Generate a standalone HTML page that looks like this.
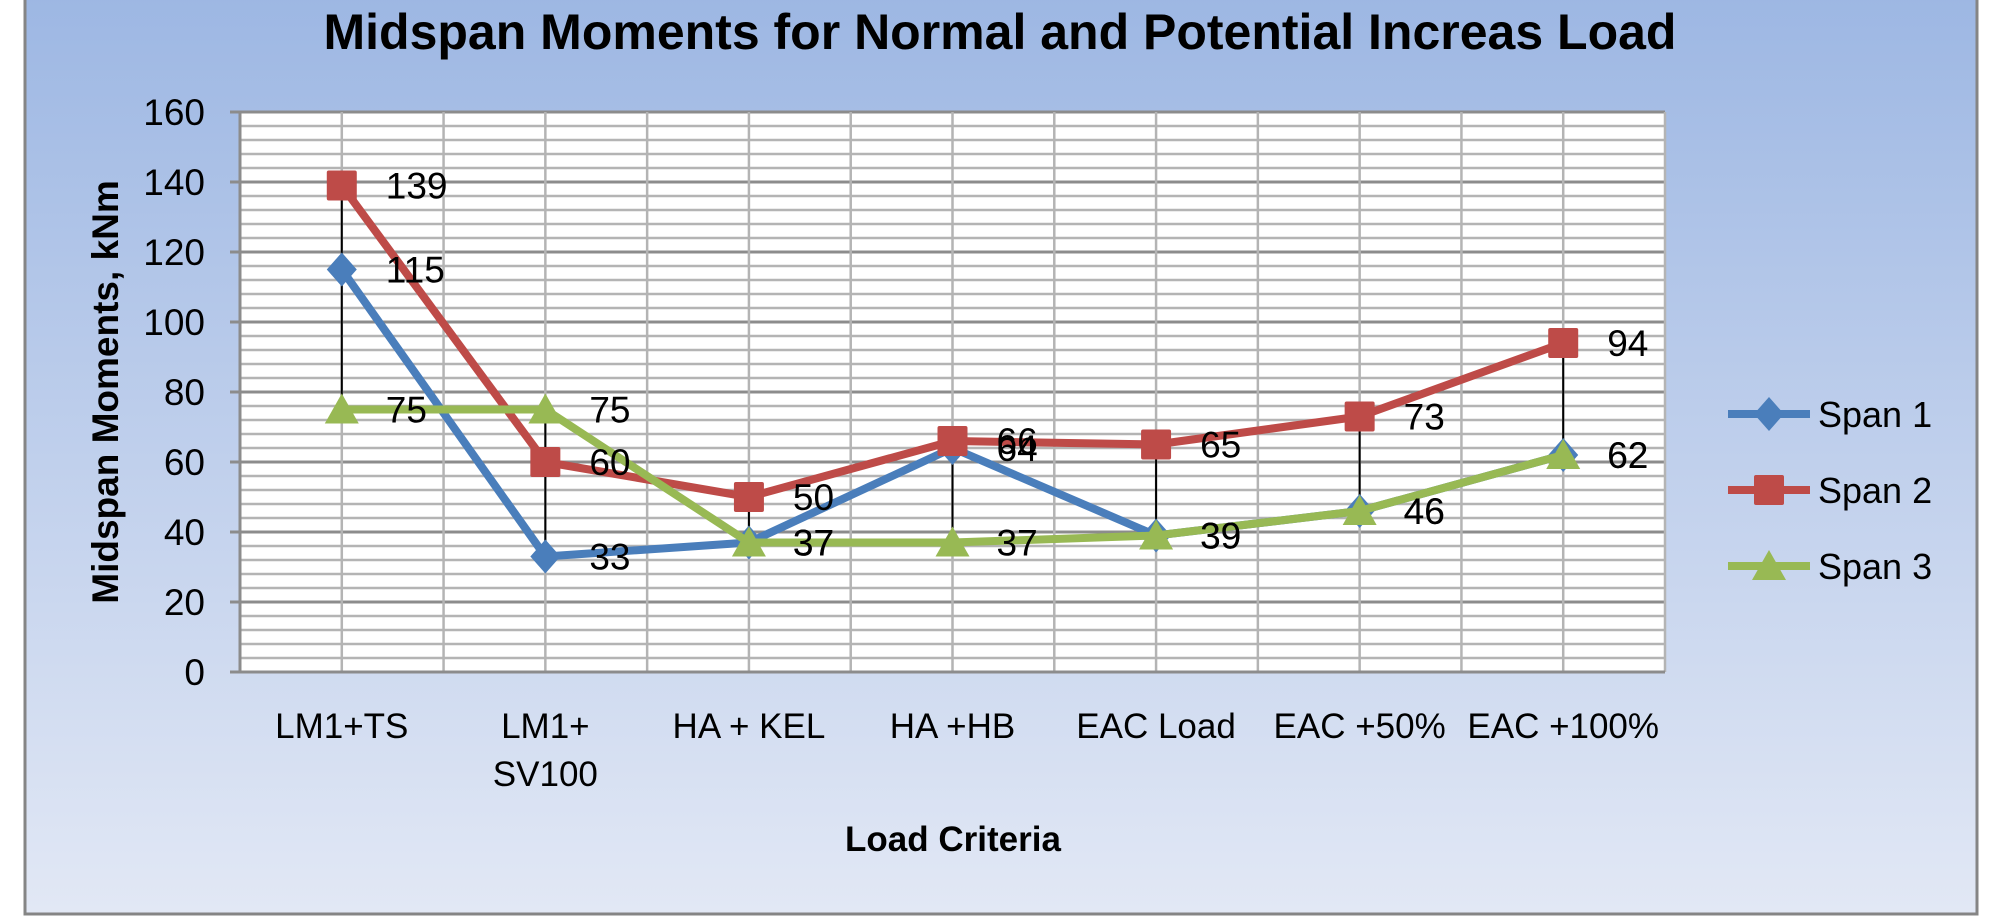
<!DOCTYPE html>
<html><head><meta charset="utf-8"><style>
html,body{margin:0;padding:0;background:#fff;}
svg{display:block;font-family:"Liberation Sans",sans-serif;}
</style></head><body>
<svg id="chart" width="2012" height="924" viewBox="0 0 2012 924" xmlns="http://www.w3.org/2000/svg">
<defs><linearGradient id="bg" x1="0" y1="0" x2="0" y2="1">
<stop offset="0" stop-color="#9db7e3"/><stop offset="1" stop-color="#e2e8f5"/></linearGradient></defs>
<rect x="25" y="-4" width="1952" height="918" fill="url(#bg)" stroke="#858585" stroke-width="3"/>
<text x="1000" y="49" text-anchor="middle" font-size="50" font-weight="bold">Midspan Moments for Normal and Potential Increas Load</text>
<rect x="240" y="112" width="1425" height="560" fill="#fff"/>
<g id="grid"></g><g id="axes"></g><g id="hilo"></g><g id="series"></g><g id="labels"></g>
<text transform="translate(118,392) rotate(-90)" text-anchor="middle" font-size="37" font-weight="bold">Midspan Moments, kNm</text>
<text x="953" y="851" text-anchor="middle" font-size="35" font-weight="bold">Load Criteria</text>
<g id="legend"></g>
</svg>
<script>
const categories = ["LM1+TS","LM1+|SV100","HA + KEL","HA +HB","EAC Load","EAC +50%","EAC +100%"];
const span1 = [115,33,37,64,39,46,62];
const span2 = [139,60,50,66,65,73,94];
const span3 = [75,75,37,37,39,46,62];
const yTicks = [0,20,40,60,80,100,120,140,160];
const seriesNames = ["Span 1","Span 2","Span 3"];

const NS="http://www.w3.org/2000/svg";
const L=240,R=1665,T=112,B=672,yMax=160;
const n=categories.length, cw=(R-L)/n;
const X=i=>L+cw*(i+0.5);
const Y=v=>B-(v/yMax)*(B-T);
function mk(tag,parent,attrs,text){const e=document.createElementNS(NS,tag);for(const k in attrs)e.setAttribute(k,attrs[k]);if(text!==undefined)e.textContent=text;document.getElementById(parent).appendChild(e);return e;}

for(let v=0;v<=yMax;v+=4){
  const major=v%20===0;
  const g=mk('line','grid',{x1:L,x2:R,y1:Y(v),y2:Y(v),stroke:major?'#8c8c8c':'#b4b4b4','stroke-width':major?3:2.5});
  
  
}
for(let k=0;k<=2*n;k++){
  const x=L+k*cw/2;
  const g=mk('line','grid',{x1:x,x2:x,y1:T,y2:B,stroke:'#b4b4b4','stroke-width':2.5});
  
  
}
const ax=mk('line','axes',{x1:L,x2:L,y1:T,y2:B,stroke:'#8c8c8c','stroke-width':3});


const bx=mk('line','axes',{x1:L,x2:R,y1:B,y2:B,stroke:'#8c8c8c','stroke-width':3});


yTicks.forEach(v=>{
  const t=mk('line','axes',{x1:L-10,x2:L,y1:Y(v),y2:Y(v),stroke:'#8c8c8c','stroke-width':3});
  
  
  const l=mk('text','axes',{x:205,y:Y(v)+13,'text-anchor':'end','font-size':37},String(v));
  
  
});
categories.forEach((c,i)=>{
  c.split('|').forEach((line,j)=>{
    const l=mk('text','axes',{x:X(i),y:738+j*48,'text-anchor':'middle','font-size':35},line);
    
    
  });
  const vals=[span1[i],span2[i],span3[i]];
  const h=mk('line','hilo',{x1:X(i),x2:X(i),y1:Y(Math.max(...vals)),y2:Y(Math.min(...vals)),stroke:'#000','stroke-width':2});
  
  
});

const colors=['#4a7ebb','#be4b48','#98b954'];
function marker(parent,k,x,y){
  let e;
  if(k===0) e=mk('polygon',parent,{points:`${x},${y-17} ${x+15},${y} ${x},${y+17} ${x-15},${y}`,fill:colors[0]});
  else if(k===1) e=mk('rect',parent,{x:x-15,y:y-15,width:30,height:30,rx:2,fill:colors[1]});
  else e=mk('polygon',parent,{points:`${x},${y-16} ${x+17},${y+14} ${x-17},${y+14}`,fill:colors[2]});
  return e;
}
[span1,span2,span3].forEach((data,k)=>{
  const p=mk('polyline','series',{points:data.map((v,i)=>X(i)+','+Y(v)).join(' '),fill:'none',stroke:colors[k],'stroke-width':8,'stroke-linejoin':'round'});
  
  
  data.forEach((v,i)=>{
    const m=marker('series',k,X(i),Y(v));
    
    
    const t=mk('text','labels',{x:X(i)+44,y:Y(v)+13,'font-size':37},String(v));
    
    
  });
  const ly=414+k*76;
  const ll=mk('line','legend',{x1:1728,x2:1810,y1:ly,y2:ly,stroke:colors[k],'stroke-width':8});
  
  
  const lm=marker('legend',k,1769,ly);
  
  
  const lt=mk('text','legend',{x:1818,y:ly+13,'font-size':36},seriesNames[k]);
  
  
});
</script>
</body></html>
